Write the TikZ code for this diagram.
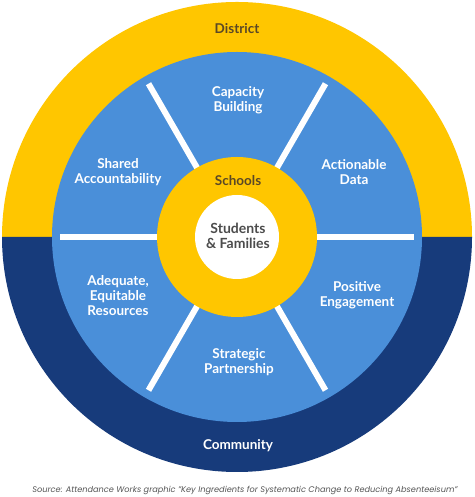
\documentclass[tikz,border=0pt]{standalone}
\usepackage{fontspec}
\setmainfont{Poppins}
\newfontfamily\labelfont{Lato}
\usepackage{xcolor}
\usepackage{tikz}
\usetikzlibrary{positioning}
\definecolor{distyellow}{HTML}{FFC600}
\definecolor{pillarblue}{HTML}{4A8FD9}
\definecolor{commblue}{HTML}{173B7B}
\definecolor{labelbrown}{HTML}{5A4826}
\definecolor{srcgray}{HTML}{555555}
\tikzset{
  ring/.style={font=\labelfont\fontsize{13.5}{15}\selectfont\bfseries, text=labelbrown, align=center},
  pillar/.style={font=\labelfont\fontsize{13.5}{15}\selectfont\bfseries, text=white, align=center},
  core/.style={font=\labelfont\fontsize{14}{15.5}\selectfont\bfseries, text=black!70, align=center},
  spoke/.style={draw=white, line width=6pt},
  source/.style={font=\fontsize{8.2}{9}\selectfont\itshape, text=srcgray},
}

\begin{document}
\begin{tikzpicture}[x=1pt, y=1pt]
  \useasboundingbox (0,0) rectangle (474,497);
  \fill[white] (0,0) rectangle (474,497);
  \coordinate (c) at (237,260);
  % outer ring: district / community
  \fill[distyellow] (c) ++(0:235) arc[start angle=0, end angle=180, radius=235] -- cycle;
  \fill[commblue] (c) ++(180:235) arc[start angle=180, end angle=360, radius=235] -- cycle;
  % pillars
  \fill[pillarblue] (c) circle[radius=185];
  \foreach \a in {0,60,120,180,240,300}
    \draw[spoke] (c) ++(\a:79) -- ++(\a:98);
  % schools ring and centre
  \fill[distyellow] (c) circle[radius=80];
  \fill[white] (c) circle[radius=42];

  \node[ring] (district) at (237,468) {District};
  \node[ring] (schools) at (238,316) {Schools};
  \node[core] (students) at (238,261) {Students\\\& Families};
  \node[pillar] (capacity) at (238,397) {Capacity\\Building};
  \node[pillar] (shared) at (118,325) {Shared\\Accountability};
  \node[pillar] (actionable) at (354,325) {Actionable\\Data};
  \node[pillar] (adequate) at (118,201) {Adequate,\\Equitable\\Resources};
  \node[pillar] (positive) at (357,202) {Positive\\Engagement};
  \node[pillar] (strategic) at (239,135) {Strategic\\Partnership};
  \node[pillar] (community) at (238,51) {Community};
  \node[source] (src) at (245,7) {Source: Attendance Works graphic ''Key Ingredients for Systematic Change to Reducing Absenteeisum''};
\end{tikzpicture}
\end{document}
